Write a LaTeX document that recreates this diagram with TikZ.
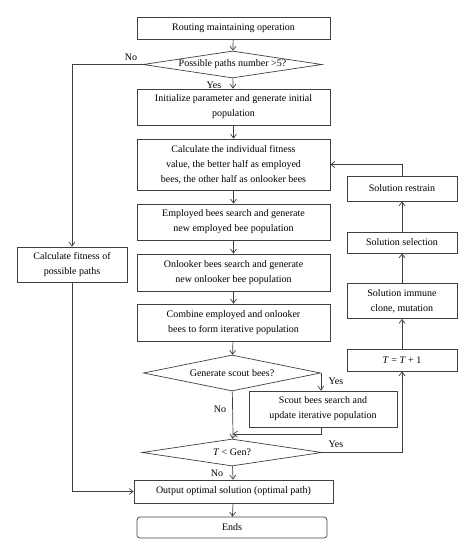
\documentclass[tikz,border=0pt]{standalone}
\usepackage{fontspec}
\setmainfont{Liberation Serif}
\usetikzlibrary{shapes.geometric,arrows.meta}

\begin{document}
\begin{tikzpicture}[x=1pt, y=-1pt,
	font=\fontsize{10}{15}\selectfont,
	line width=0.7pt, draw=black!75,
	box/.style={draw, fill=white, align=center, inner sep=0pt},
	dec/.style={draw, diamond, aspect=6, inner sep=0pt},
	arr/.style={-{Straight Barb[length=4pt,width=6pt]}}]
	\useasboundingbox (0,0) rectangle (474,556);
	% Main column:
	\node[box, minimum width=193, minimum height=22](routing) at (233.5, 28){Routing maintaining operation};
	\node[dec, minimum width=179, minimum height=27](paths) at (232.5, 64.5){Possible paths number >5?};
	\node[box, minimum width=193, minimum height=36](init) at (233.5, 107){Initialize parameter and generate initial\\population};
	\node[box, minimum width=193, minimum height=51](fitness) at (233.5, 164.5){Calculate the individual fitness\\value, the better half as employed\\bees, the other half as onlooker bees};
	\node[box, minimum width=193, minimum height=36](employed) at (233.5, 222){Employed bees search and generate\\new employed bee population};
	\node[box, minimum width=193, minimum height=37](onlooker) at (233.5, 272.5){Onlooker bees search and generate\\new onlooker bee population};
	\node[box, minimum width=193, minimum height=37](combine) at (233.5, 322.5){Combine employed and onlooker\\bees to form iterative population};
	\node[dec, minimum width=177, minimum height=36](scoutq) at (232, 373){Generate scout bees?};
	\node[box, minimum width=148, minimum height=36](scout) at (323, 409){Scout bees search and\\update iterative population};
	\coordinate (join) at (233, 434);
	\node[dec, minimum width=180, minimum height=27](gen) at (232, 452.5){\textit{T} < Gen?};
	\node[box, minimum width=199, minimum height=23](output) at (233.5, 491.5){Output optimal solution (optimal path)};
	\node[box, minimum width=190, minimum height=21, rounded corners=3pt](ends) at (232, 527.5){Ends};
	% Side columns:
	\node[box, minimum width=110, minimum height=35](pathfit) at (72, 264.5){Calculate fitness of\\possible paths};
	\node[box, minimum width=110, minimum height=25](restrain) at (402, 188.5){Solution restrain};
	\node[box, minimum width=110, minimum height=21](select) at (402, 242.5){Solution selection};
	\node[box, minimum width=110, minimum height=35](immune) at (402, 301){Solution immune\\clone, mutation};
	\node[box, minimum width=110, minimum height=22](tinc) at (402, 360){\textit{T} = \textit{T} + 1};
	% Labels:
	\node(no1) at (131, 57){No};
	\node(yes1) at (214, 85){Yes};
	\node(yes2) at (336, 381){Yes};
	\node(no2) at (220, 409){No};
	\node(yes3) at (336, 444){Yes};
	\node(no3) at (217, 473){No};
	% Wires:
	\draw[arr] (routing) -- (paths);
	\draw[arr] (paths) -- (init);
	\draw[arr] (init) -- (fitness);
	\draw[arr] (fitness) -- (employed);
	\draw[arr] (employed) -- (onlooker);
	\draw[arr] (onlooker) -- (combine);
	\draw[arr] (combine) -- (scoutq);
	\draw[arr] (scoutq.east) -- (scoutq.east |- scout.north);
	\draw (scoutq) -- (join);
	\draw[arr] (join) -- (gen);
	\draw[arr] (scoutq.east |- scout.south) |- (join);
	\draw[arr] (gen) -- (output);
	\draw[arr] (output) -- (ends);
	\draw[arr] (paths.west) -| (pathfit.north);
	\draw[arr] (pathfit.south) |- (output.west);
	\draw[arr] (gen.east) -| (tinc.south);
	\draw[arr] (tinc) -- (immune);
	\draw[arr] (immune) -- (select);
	\draw[arr] (select) -- (restrain);
	\draw[arr] (restrain.north) |- (fitness.east);
\end{tikzpicture}
\end{document}
